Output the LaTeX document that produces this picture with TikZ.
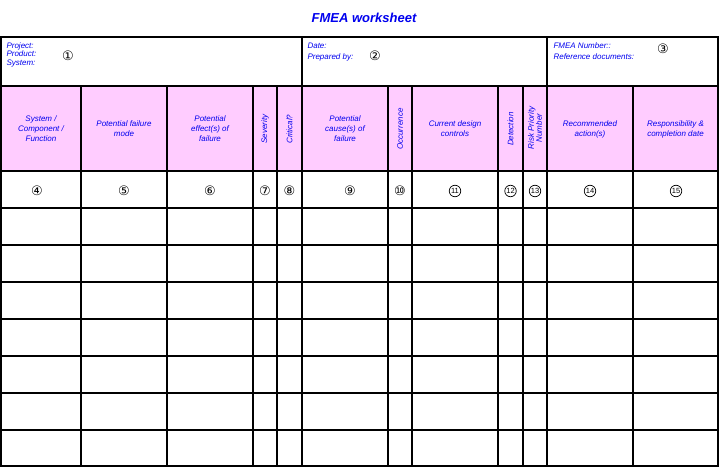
\documentclass[tikz,border=0pt]{standalone}
\usepackage{fontspec}
\setmainfont{Liberation Sans}
\newfontfamily\symf{DejaVu Sans}
\definecolor{pinkc}{HTML}{FFCCFF}
\definecolor{bluet}{HTML}{0000EE}
\begin{document}
\begin{tikzpicture}[x=1pt,y=-1pt,
  lbl/.style={font=\fontsize{8}{10}\selectfont\itshape, text=bluet, align=center},
  hdr/.style={font=\fontsize{8}{10}\selectfont\itshape, text=bluet, align=left, anchor=north west},
  num/.style={font=\symf\fontsize{13}{13}\selectfont},
  cnum/.style={circle, draw, line width=0.7pt, inner sep=0pt, minimum size=11.5pt, font=\fontsize{7.5}{7.5}\selectfont},
  grid/.style={line width=1.2pt}]
\useasboundingbox (0,0) rectangle (720,468);
\fill[pinkc] (1,86) rectangle (718,171);
\node[font=\bfseries\itshape\fontsize{13}{14}\selectfont, text=bluet] (title) at (364,18) {FMEA worksheet};
% grid
\draw[grid] (1,37) rectangle (718,466);
\foreach \y in {86,171,208,245,282,319,356,393,430} \draw[grid] (1,\y) -- (718,\y);
\draw[grid] (302,37) -- (302,86);
\draw[grid] (547,37) -- (547,86);
\foreach \x in {81,167,253,277,302,388,412,498,523,547,633} \draw[grid] (\x,86) -- (\x,466);
% header
\node[hdr] (p) at (3,39) {Project:\\[-1.5pt]Product:\\[-1.5pt]System:};
\node[hdr] (d) at (304,39) {Date:\\[1pt]Prepared by:};
\node[hdr] (f) at (550,39) {FMEA Number::\\[1pt]Reference documents:};
\node[num] (n1) at (68,56) {①};
\node[num] (n2) at (375,56) {②};
\node[num] (n3) at (663,49) {③};
% column headers
\node[lbl] (h1) at (41,129) {System /\\Component /\\Function};
\node[lbl] (h2) at (124,129) {Potential failure\\mode};
\node[lbl] (h3) at (210,129) {Potential\\effect(s) of\\failure};
\node[lbl, rotate=90] (h4) at (265,129) {Severity};
\node[lbl, rotate=90] (h5) at (289.5,129) {Critical?};
\node[lbl] (h6) at (345,129) {Potential\\cause(s) of\\failure};
\node[lbl, rotate=90] (h7) at (400,129) {Occurrence};
\node[lbl] (h8) at (455,129) {Current design\\controls};
\node[lbl, rotate=90] (h9) at (510.5,129) {Detection};
\node[lbl, rotate=90, font=\fontsize{8}{8}\selectfont\itshape] (h10) at (535,128) {Risk Priority\\Number};
\node[lbl] (h11) at (590,129) {Recommended\\action(s)};
\node[lbl] (h12) at (675.5,129) {Responsibility \&\\completion date};
% numbers
\node[num] at (37,191) {④};
\node[num] at (124,191) {⑤};
\node[num] at (210,191) {⑥};
\node[num] at (265,191) {⑦};
\node[num] at (289.5,191) {⑧};
\node[num] at (350,191) {⑨};
\node[num] at (400,191) {⑩};
\node[cnum] at (455,191) {11};
\node[cnum] at (510.5,191) {12};
\node[cnum] at (535,191) {13};
\node[cnum] at (590,191) {14};
\node[cnum] at (676,191) {15};
\end{tikzpicture}
\end{document}
